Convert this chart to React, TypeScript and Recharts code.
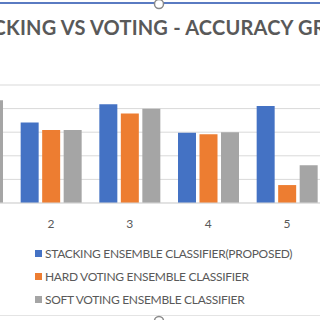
import { BarChart, Bar, XAxis, YAxis, CartesianGrid, Legend } from 'recharts'

const categories = ['1', '2', '3', '4', '5', '6']
const stacking = [86, 68.3, 83.7, 59.5, 82.3, 84]
const hardVoting = [80, 61.8, 75.9, 58.2, 15.2, 70]
const softVoting = [87.1, 61.8, 79.8, 59.9, 32, 75]
const yTicks = [0, 20, 40, 60, 80, 100]

const seriesNames = [
  'STACKING ENSEMBLE CLASSIFIER(PROPOSED)',
  'HARD VOTING ENSEMBLE CLASSIFIER',
  'SOFT VOTING ENSEMBLE CLASSIFIER',
]
const colors = ['#4472C4', '#ED7D31', '#A5A5A5']

const chartData = categories.map((c, i) => ({
  name: c,
  stacking: stacking[i],
  hard: hardVoting[i],
  soft: softVoting[i],
}))

const FONT = 'Lato, "Open Sans", sans-serif'

// the reference is a crop, so the chart is shifted left and clipped
const SHIFT = 67

function LegendBox() {
  return (
    <div style={{ fontFamily: FONT, fontSize: 12, letterSpacing: -0.3, color: '#595959' }}>
      {seriesNames.map((n, i) => (
        <div key={n} style={{ display: 'flex', alignItems: 'center', height: 23.3 }}>
          <span style={{ display: 'inline-block', width: 7, height: 7, background: colors[i], marginRight: 3 }} />
          <span>{n}</span>
        </div>
      ))}
    </div>
  )
}

export default function App() {
  return (
    <div style={{ position: 'fixed', left: 0, top: 0, width: 320, height: 320, overflow: 'hidden', background: '#fff' }}>
      <div style={{ position: 'absolute', left: 0, top: 2, width: 320, height: 1.5, background: '#5A7BC2' }} />
      <div style={{ position: 'absolute', left: 0, top: 315, width: 320, height: 1, background: '#E4E4E4' }} />
      <div
        style={{
          position: 'absolute', left: -43, top: 15, whiteSpace: 'nowrap',
          fontFamily: FONT, fontWeight: 700, fontSize: 20, letterSpacing: 0.2, color: '#595959',
        }}
      >
        STACKING VS VOTING - ACCURACY GRAPH
      </div>
      <div style={{ position: 'absolute', left: -SHIFT, top: 0 }}>
        <BarChart
          width={472}
          height={320}
          data={chartData}
          margin={{ top: 85, right: 0, left: 0, bottom: 86 }}
          barSize={18}
          barGap={3.5}
        >
          <CartesianGrid vertical={false} stroke="#D9D9D9" />
          <XAxis
            dataKey="name"
            height={31}
            axisLine={{ stroke: '#D9D9D9' }}
            tickLine={false}
            tick={{ fontSize: 12, fill: '#595959', fontFamily: FONT }}
            tickMargin={10}
          />
          <YAxis hide domain={[0, 100]} ticks={yTicks} />
          <Legend
            layout="vertical"
            align="center"
            verticalAlign="middle"
            wrapperStyle={{ left: SHIFT + 35, top: 241.5, width: 300 }}
            content={() => <LegendBox />}
          />
          <Bar dataKey="stacking" name={seriesNames[0]} fill={colors[0]} isAnimationActive={false} />
          <Bar dataKey="hard" name={seriesNames[1]} fill={colors[1]} isAnimationActive={false} />
          <Bar dataKey="soft" name={seriesNames[2]} fill={colors[2]} isAnimationActive={false} />
        </BarChart>
      </div>
      <svg width={320} height={320} style={{ position: 'absolute', left: 0, top: 0, pointerEvents: 'none' }}>
        <circle cx={159} cy={4} r={4.5} fill="#fff" stroke="#8A8A8A" strokeWidth={1.5} />
        <circle cx={159} cy={321} r={4.5} fill="#fff" stroke="#8A8A8A" strokeWidth={1.5} />
      </svg>
    </div>
  )
}
